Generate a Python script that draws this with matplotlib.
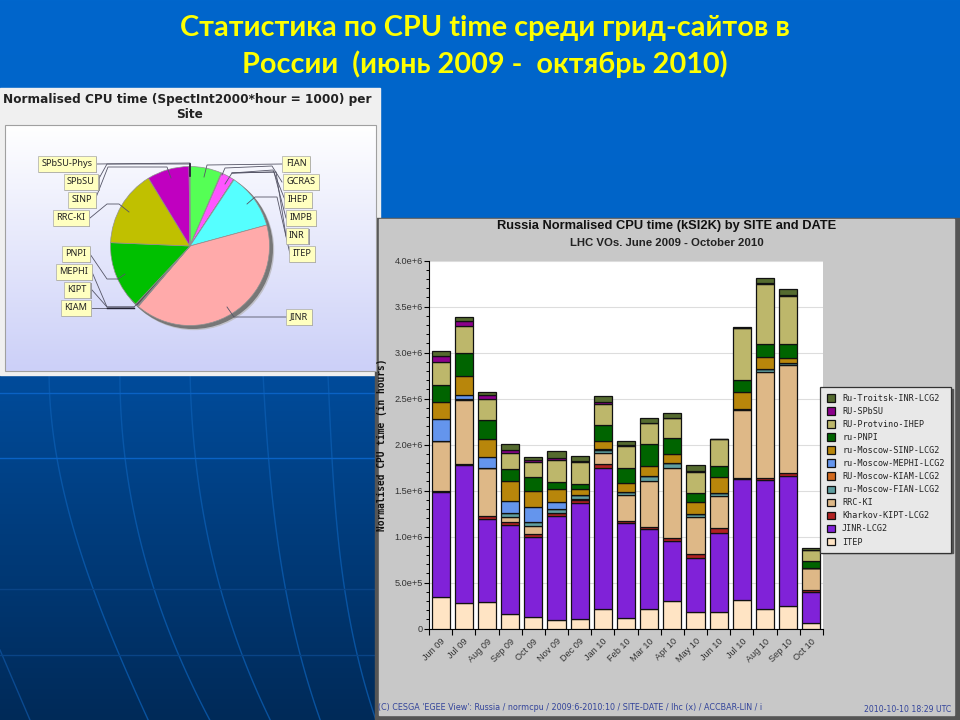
import numpy as np
import matplotlib
matplotlib.use("Agg")
import matplotlib.pyplot as plt
from matplotlib.patches import Rectangle, Circle
import matplotlib.patheffects as pe

months = ["Jun 09", "Jul 09", "Aug 09", "Sep 09", "Oct 09", "Nov 09", "Dec 09", "Jan 10", "Feb 10",
          "Mar 10", "Apr 10", "May 10", "Jun 10", "Jul 10", "Aug 10", "Sep 10", "Oct 10"]

# values in millions of hours
itep = [.345, .28, .29, .157, .127, .09, .10, .21, .116, .207, .30, .175, .18, .31, .207, .247, .062]
jinr = [1.135, 1.498, .90, .973, .873, 1.128, 1.264, 1.532, 1.029, .877, .65, .589, .856, 1.315, 1.403, 1.408, .338]
kharkov = [.01, .012, .028, .03, .03, .037, .036, .051, .019, .021, .03, .043, .059, .011, .026, .035, .02]
rrc = [.545, .69, .522, .05, .08, .005, .007, .117, .286, .499, .77, .403, .341, .737, 1.154, 1.17, .24]
fian = [.005, .01, .005, .045, .05, .04, .048, .028, .037, .051, .05, .04, .037, .017, .036, .03, 0]
kiam = [0] * 17
mephi = [.24, .05, .12, .13, .16, .08, 0, .015, 0, 0, 0, 0, 0, 0, 0, 0, 0]
sinp = [.18, .205, .195, .219, .175, .14, .061, .083, .091, .109, .098, .125, .177, .18, .124, .05, 0]
pnpi = [.185, .255, .21, .131, .15, .076, .055, .174, .167, .243, .177, .098, .12, .13, .145, .15, .078]
protvino = [.255, .29, .225, .175, .162, .234, .244, .225, .235, .223, .21, .227, .285, .57, .655, .525, .117]
spbsu = [.065, .05, .04, .035, .029, .028, .007, .022, .01, .005, .005, .012, 0, 0, .005, .015, 0]
troitsk = [.055, .045, .035, .065, .029, .066, .058, .073, .05, .05, .055, .063, .01, .01, .05, .055, .015]

series = [("ITEP", itep, "#ffe4c4"), ("JINR-LCG2", jinr, "#8022d8"), ("Kharkov-KIPT-LCG2", kharkov, "#b22222"),
          ("RRC-KI", rrc, "#deb887"), ("ru-Moscow-FIAN-LCG2", fian, "#5f9ea0"),
          ("RU-Moscow-KIAM-LCG2", kiam, "#d2691e"), ("ru-Moscow-MEPHI-LCG2", mephi, "#6495ed"),
          ("ru-Moscow-SINP-LCG2", sinp, "#b8860b"), ("ru-PNPI", pnpi, "#006400"),
          ("RU-Protvino-IHEP", protvino, "#bdb76b"), ("RU-SPbSU", spbsu, "#8b008b"),
          ("Ru-Troitsk-INR-LCG2", troitsk, "#556b2f")]

pie_sites = ["FIAN", "GCRAS", "IHEP", "IMPB", "INR", "ITEP", "JINR", "KIAM", "KIPT", "MEPHI",
             "PNPI", "RRC-KI", "SINP", "SPbSU", "SPbSU-Phys"]
pie_share = [6.5, .1, 2.7, .05, .05, 11.5, 40.8, .1, .1, .5, 13.8, 15.7, 8.6, .1, .1]
pie_colors = ["#55ff55", "#ff5555", "#ff55ff", "#5555ff", "#ffff55", "#55ffff", "#ffaaaa", "#aaaaaa",
              "#444444", "#555555", "#00c000", "#c0c000", "#c000c0", "#0000c0", "#303030"]

W, H = 960, 720
fig = plt.figure(figsize=(9.6, 7.2), dpi=100)


def px_axes(left, top, right, bottom, **kw):
    return fig.add_axes([left / W, 1 - bottom / H, (right - left) / W, (bottom - top) / H], **kw)


# slide background
bg = fig.add_axes([0, 0, 1, 1])
bg.set_xlim(0, W)
bg.set_ylim(H, 0)
bg.axis("off")
ys = np.array([0, 220, 370, 720]) / H
cols = np.array([[0, 102, 204], [0, 100, 200], [0, 76, 156], [0, 42, 88]]) / 255
t = np.linspace(0, 1, 720)
grad = np.stack([np.interp(t, ys, cols[:, i]) for i in range(3)], axis=1)[:, None, :]
bg.imshow(grad, extent=[0, W, H, 0], aspect="auto", zorder=0)

curves = [([375, 457, 590, 655, 720], [49, 57, 93, 120, 148]),
          ([375, 460, 590, 655, 720], [120, 125, 155, 178, 210]),
          ([375, 460, 590, 655, 720], [190, 196, 220, 243, 270]),
          ([375, 460, 590, 655, 720], [263, 269, 285, 301, 320]),
          ([375, 460, 590, 655, 720], [328, 332, 345, 357, 376])]
for cy, cx in curves:
    yy = np.linspace(375, 720, 80)
    bg.plot(np.polyval(np.polyfit(cy, cx, 3), yy), yy, color="#0b5cb0", lw=1, alpha=.8, zorder=1)
bg.plot([0, 30], [650, 720], color="#0b4a90", lw=1, zorder=1)
for y, c in [(393, "#0a62c4"), (458, "#0a62c4"), (589, "#0a4486"), (655, "#0a4486")]:
    bg.plot([0, 376], [y, y], color=c, lw=1, zorder=1)

title_font = ["Lato", "Noto Sans"]
bg.text(485, 28, "Статистика по CPU time среди грид-сайтов в", color="#ffff00", fontsize=20.8, fontweight="bold",
        family=title_font, ha="center", va="center")
bg.text(485, 64, "России  (июнь 2009 -  октябрь 2010)", color="#ffff00", fontsize=20.8, fontweight="bold",
        family=title_font, ha="center", va="center")

# pie panel
bg.add_patch(Rectangle((0, 88), 380, 287, color="#f0f0f0", zorder=2))
box = np.linspace(0, 1, 100)[:, None, None] * (np.array([204, 208, 248]) / 255 - 1) + 1
bg.imshow(box, extent=[5, 376, 371, 125], aspect="auto", zorder=3)
bg.add_patch(Rectangle((5, 125), 371, 246, fill=False, ec="#a0a0a0", lw=.8, zorder=4))
bg.text(187, 99, "Normalised CPU time (SpectInt2000*hour = 1000) per", fontsize=8.7, fontweight="bold",
        color="#222222", ha="center", va="center", zorder=4)
bg.text(190, 115, "Site", fontsize=8.7, fontweight="bold", color="#222222", ha="center", va="center", zorder=4)

# bar panel
bg.add_patch(Rectangle((375, 218), 585, 502, color="#555555", zorder=2))
bg.add_patch(Rectangle((379, 219), 575, 496, color="#c8c8c8", zorder=3))
bg.set_xlim(0, W)
bg.set_ylim(H, 0)

ax = px_axes(429, 260.5, 823, 628.5)
ax.set_facecolor("white")
x = np.arange(len(months))
bottom = np.zeros(len(months))
handles = []
for name, vals, col in series:
    bars = ax.bar(x, vals, 0.78, bottom=bottom, color=col, edgecolor="#111111", linewidth=.9, label=name, zorder=3)
    bottom += np.array(vals)
    handles.append(bars)
ax.set_xlim(-.5, 16.5)
ax.set_ylim(0, 4)
ax.set_yticks([0, .5, 1, 1.5, 2, 2.5, 3, 3.5, 4], ["0", "5.0e+5", "1.0e+6", "1.5e+6", "2.0e+6", "2.5e+6", "3.0e+6", "3.5e+6", "4.0e+6"])
ax.set_yticks(np.arange(0, 4.01, .1), minor=True)
ax.set_xticks(np.arange(-.5, 17), [""] * 18)
ax.set_xticks(x, months, minor=True, rotation=45, ha="right", rotation_mode="anchor")
ax.tick_params(axis="x", which="minor", length=0, pad=6, labelsize=6.6, labelcolor="#333333")
ax.tick_params(axis="x", which="major", length=4, width=.8)
ax.tick_params(axis="y", which="major", length=3.5, width=.8, labelsize=6.6, labelcolor="#333333", pad=1)
ax.tick_params(axis="y", which="minor", length=2, width=.7)
for lab in ax.get_xticklabels(minor=True):
    lab.set_family("Liberation Sans")
for lab in ax.get_yticklabels():
    lab.set_family("Liberation Sans")
ax.grid(axis="y", which="major", color="#dddddd", lw=.8, zorder=0)
ax.spines["top"].set_visible(False)
ax.spines["right"].set_visible(False)
ax.set_axisbelow(True)

fg = fig.add_axes([0, 0, 1, 1], facecolor="none")
fg.set_xlim(0, W)
fg.set_ylim(H, 0)
fg.axis("off")
fg.set_zorder(5)

fg.text(667, 226, "Russia Normalised CPU time (kSI2K) by SITE and DATE", family="Liberation Sans", fontsize=9.3,
        fontweight="bold", color="#111111", ha="center", va="center")
fg.text(667, 243, "LHC VOs. June 2009 - October 2010", family="Liberation Sans", fontsize=8.2, fontweight="bold",
        color="#222222", ha="center", va="center")
fg.text(382, 445, "Normalised CPU time (in hours)", family="DejaVu Sans Mono", fontsize=6.9, fontweight="bold",
        rotation=90, ha="center", va="center", color="#111111")
fg.text(378, 708, "(C) CESGA 'EGEE View': Russia / normcpu / 2009:6-2010:10 / SITE-DATE / lhc (x) / ACCBAR-LIN / i",
        family="DejaVu Sans", fontsize=5.75, color="#33449a", ha="left", va="center")
fg.text(951, 709, "2010-10-10 18:29 UTC", family="DejaVu Sans", fontsize=5.6, color="#33449a",
        ha="right", va="center")

# legend
fg.add_patch(Rectangle((822, 389), 131, 164, color="#555555", zorder=1))
leg = fg.legend(handles[::-1], [s[0] for s in series[::-1]], loc="upper left", bbox_to_anchor=(820 / W, 1 - 387 / H),
                bbox_transform=fig.transFigure, prop={"family": "DejaVu Sans Mono", "size": 6.1},
                fancybox=False, framealpha=1, facecolor="#e8e8e8", edgecolor="#333333",
                handlelength=1.0, handleheight=1.0, handletextpad=.8, labelspacing=.48,
                borderpad=.8, borderaxespad=0)
leg.get_frame().set_linewidth(.9)
for text in leg.get_texts():
    text.set_color("#222222")

# pie
cx, cy, R = 190, 246, 79.5
pie_ax = px_axes(cx - 1.25 * R, cy - 1.25 * R, cx + 1.25 * R, cy + 1.25 * R, facecolor="none")
pie_ax.set_zorder(4)
pie_ax.add_patch(Circle((.05, -.05), 1, color="#c0c0c8", zorder=0))
pie_ax.add_patch(Circle((.035, -.035), 1, color="#777777", zorder=0))
pie_ax.pie(pie_share, colors=pie_colors, startangle=90, counterclock=False, radius=1,
           wedgeprops={"edgecolor": "#909090", "linewidth": .5})
pie_ax.set_xlim(-1.25, 1.25)
pie_ax.set_ylim(-1.25, 1.25)

# label boxes and leader lines
labels_px = {"SPbSU-Phys": (67, 164), "SPbSU": (81, 182), "SINP": (82, 200), "RRC-KI": (71, 218),
             "PNPI": (76, 254), "MEPHI": (74, 272), "KIPT": (77, 290), "KIAM": (76, 308),
             "FIAN": (296, 164), "GCRAS": (301, 182), "IHEP": (298, 200), "IMPB": (301, 218),
             "INR": (297, 236), "ITEP": (302, 254), "JINR": (299, 317)}
leaders = {"SPbSU-Phys": [(97, 164), (190, 163), (190, 176)],
           "SPbSU": [(97, 182), (107, 164), (190, 164), (190, 176)],
           "SINP": [(95, 200), (108, 167), (167, 167), (171, 178)],
           "RRC-KI": [(90, 218), (107, 204), (119, 204), (129, 212)],
           "PNPI": [(90, 254), (107, 279), (118, 279), (125, 274)],
           "MEPHI": [(92, 272), (107, 307), (134, 307), (137, 304)],
           "KIPT": [(92, 290), (107, 307), (134, 307)],
           "KIAM": [(92, 308), (134, 308)],
           "FIAN": [(282, 164), (207, 165), (204, 177)],
           "GCRAS": [(282, 182), (272, 166), (225, 168), (222, 175)],
           "IHEP": [(285, 200), (273, 170), (232, 173), (225, 184)],
           "IMPB": [(286, 218), (274, 172), (232, 173)],
           "INR": [(286, 236), (276, 172), (232, 173)],
           "ITEP": [(290, 254), (277, 197), (255, 197), (247, 204)],
           "JINR": [(288, 317), (234, 317), (227, 307)]}
for site, pts in leaders.items():
    fg.plot([p[0] for p in pts], [p[1] for p in pts], color="#555566", lw=.6, zorder=2)
fg.plot([190, 190], [164, 176], color="#222233", lw=1.2, zorder=2)
fg.plot([107, 134], [307.5, 307.5], color="#222233", lw=1, zorder=2)
for site, (lx, ly) in labels_px.items():
    tx = fg.text(lx, ly, site, family="Noto Sans", fontsize=6.6, color="#222222", ha="center", va="center", zorder=3,
                 bbox={"boxstyle": "square,pad=0.38", "fc": "#ffffc0", "ec": "#aaaaaa", "lw": .5})
    tx.get_bbox_patch().set_path_effects([pe.SimplePatchShadow(offset=(1, -1), shadow_rgbFace="#888888", alpha=.8), pe.Normal()])

fig.savefig("out.png", dpi=100)
